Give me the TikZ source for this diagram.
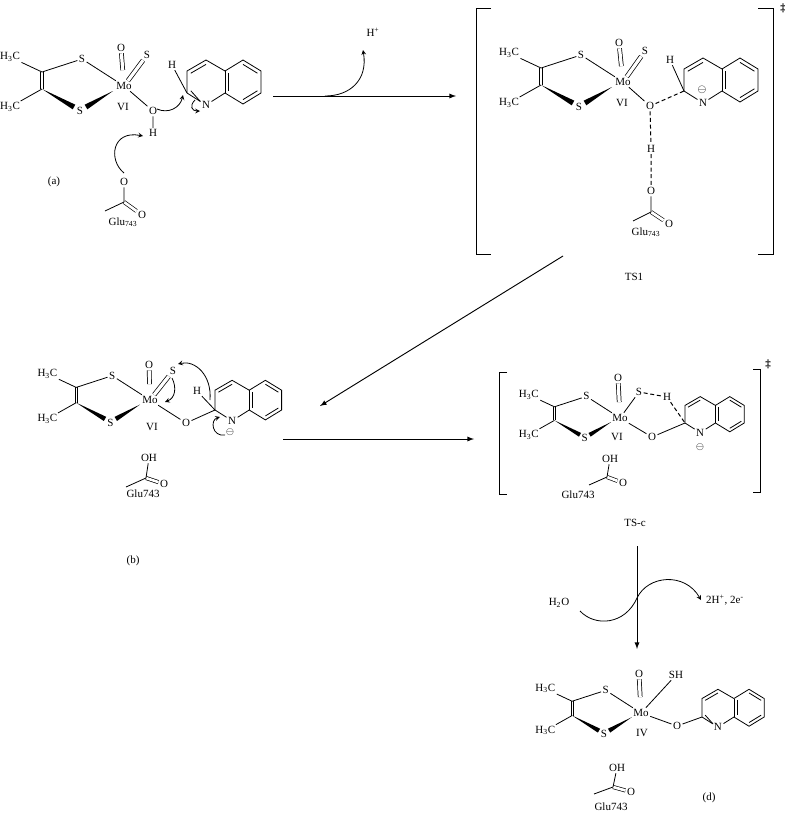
\documentclass[tikz,border=0pt]{standalone}
\usepackage{fontspec}
\setmainfont{Liberation Serif}
\usepackage{amsmath}
\usetikzlibrary{calc,arrows}
\newcommand{\wedgebond}[2]{\fill (#1) -- ($(#2)!2pt!90:(#1)$) -- ($(#2)!2pt!-90:(#1)$) -- cycle;}
\tikzset{
	atom/.style={inner sep=1pt},
	bond/.style={line width=.6pt},
	dbl/.style={double,double distance=2pt,line width=.5pt},
	oxo/.style={double,double distance=2.4pt,line width=.55pt,shorten >=8pt},
	hbond/.style={line width=.75pt,dash pattern=on 3pt off 2pt},
	curly/.style={line width=.6pt,-stealth},
	reaction/.style={line width=.7pt,-latex},
	bracket/.style={line width=.7pt},
	mofrag/.pic={
		\node[atom] (-Mo) at (0,0) {Mo};
		\node[atom] (-St) at (-42,-27) {S};
		\node[atom] (-Sb) at (-44,25) {S};
		\node[atom] (-MeA) at (-114,-29) {H\textsubscript{3}C};
		\node[atom] (-MeB) at (-114,21) {H\textsubscript{3}C};
		\coordinate (-CA) at (-82,-14);
		\coordinate (-CB) at (-82,3);
		\coordinate (-wA) at (-50,21);
		\coordinate (-wB) at (-38,21);
		\coordinate (-wC) at (-11,5);
		\draw[bond] ([xshift=-1pt]-CA) -- ([xshift=-1pt]-CB);
		\draw[bond] ([xshift=1pt]-CA) -- ([xshift=1pt]-CB);
		\draw[bond] (-MeA) -- (-CA) -- (-St) -- (-Mo);
		\draw[bond] (-MeB) -- (-CB);
		\wedgebond{-CB}{-wA}
		\wedgebond{-wC}{-wB}
	},
	quin/.pic={
		\coordinate (-C2) at (0,0);
		\coordinate (-C3) at (0,-22);
		\coordinate (-C4) at (19,-33);
		\coordinate (-C4a) at (38,-22);
		\coordinate (-C8a) at (38,0);
		\coordinate (-C5) at (56,-33);
		\coordinate (-C6) at (74,-22);
		\coordinate (-C7) at (74,0);
		\coordinate (-C8) at (56,11);
		\coordinate (-ringA) at (19,-11);
		\coordinate (-ringB) at (56,-11);
		\node[atom] (-N) at (19,12) {N};
		\draw[bond] (-C2) -- (-C3) -- (-C4) -- (-C4a) -- (-C5) -- (-C6) -- (-C7) -- (-C8) -- (-C8a) -- (-N) -- (-C2);
		\draw[bond] (-C4a) -- (-C8a);
		\foreach \p/\q/\r in {C3/C4/ringA,C4a/C8a/ringB,C5/C6/ringB,C7/C8/ringB}
			\draw[bond] ($(-\p)!.2!(-\r)$) -- ($(-\q)!.2!(-\r)$);
	},
}
\begin{document}
\begin{tikzpicture}[x=.75pt,y=-.75pt,every node/.style={font=\fontsize{8.25}{10}\selectfont}]
	\useasboundingbox (0,0) rectangle (785,814);
	% structure (a)
	\pic (ma) at (124,86) {mofrag};
	\pic (qa) at (187,93) {quin};
	\node[atom] (oa) at (121,48) {O};
	\node[atom] (sa) at (147,55) {S};
	\node[atom] (va) at (123,107) {VI};
	\node[atom] (oha) at (153,111) {O};
	\node[atom] (ha) at (153,133) {H};
	\node[atom] (hqa) at (172,65) {H};
	\node[atom] (oea) at (124,182) {O};
	\node[atom] (oca) at (142,215) {O};
	\node[atom] (glua) at (123,222) {Glu\textsubscript{743}};
	\node[atom] (laba) at (54,182) {(a)};
	\coordinate (ca) at (124,202);
	\coordinate (ea) at (105,211);
	\draw[oxo] (oa) -- (ma-Mo);
	\draw[oxo,shorten >=0pt] (sa) -- (ma-Mo);
	\draw[bond] (ma-Mo) -- (oha) -- (ha);
	\draw[bond] (hqa) -- (qa-C2);
	\draw[bond] ($(qa-C2)!.2!(qa-ringA)$) -- ($(qa-C2)!.7!(qa-N)$);
	\draw[dbl] (ca) -- (oca);
	\draw[bond] (oea) -- (ca) -- (ea);
	\draw[curly] (157,109) .. controls (168,114) and (180,108) .. (183,95);
	\draw[curly] (195,100) .. controls (189,106) and (192,111) .. (200,111);
	\draw[curly] (124,173) .. controls (108,160) and (112,130) .. (143,136);
	% first step
	\coordinate (stepA) at (273,96);
	\coordinate (stepB) at (456,96);
	\coordinate (loss) at (325,96);
	\node[atom] (hplus) at (373,32) {H\textsuperscript{+}};
	\draw[reaction] (stepA) -- (stepB);
	\draw[curly] (loss) .. controls (350,96) and (368,80) .. (363,50);
	% TS1
	\pic (mt) at (623,82) {mofrag};
	\pic (qt) at (684,91) {quin};
	\node[atom] (ot) at (619,43) {O};
	\node[atom] (st) at (645,51) {S};
	\node[atom] (vt) at (622,103) {VI};
	\node[atom] (oht) at (650,106) {O};
	\node[atom] (ht) at (651,149) {H};
	\node[atom] (hqt) at (670,60) {H};
	\node[atom] (oet) at (651,191) {O};
	\node[atom] (oct) at (669,224) {O};
	\node[atom] (glut) at (646,232) {Glu\textsubscript{743}};
	\node[atom] (minust) at (702,90) {$\ominus$};
	\node[atom] (labt) at (634,277) {TS1};
	\node[atom] (ddt) at (783,8) {\textbf{‡}};
	\coordinate (ct) at (651,212);
	\coordinate (et) at (633,221);
	\draw[oxo] (ot) -- (mt-Mo);
	\draw[oxo,shorten >=0pt] (st) -- (mt-Mo);
	\draw[bond] (mt-Mo) -- (oht);
	\draw[hbond] (oht) -- (qt-C2);
	\draw[hbond] (oht) -- (ht) -- (oet);
	\draw[bond] (hqt) -- (qt-C2);
	\draw[dbl] (ct) -- (oct);
	\draw[bond] (oet) -- (ct) -- (et);
	\draw[bracket] (491,8) -- (476,8) -- (476,254) -- (491,254);
	\draw[bracket] (758,8) -- (773,8) -- (773,254) -- (758,254);
	% second step
	\coordinate (stepC) at (563,256);
	\coordinate (stepD) at (320,406);
	\draw[reaction] (stepC) -- (stepD);
	% structure (b)
	\pic[scale=.9] (mb) at (150,400) {mofrag};
	\pic[scale=.9] (qb) at (215,410) {quin};
	\node[atom] (ob) at (149,365) {O};
	\node[atom] (sb) at (173,371) {S};
	\node[atom] (vb) at (152,427) {VI};
	\node[atom] (oxb) at (186,423) {O};
	\node[atom] (hqb) at (197,391) {H};
	\node[atom] (minusb) at (230,432) {\scriptsize$\ominus$};
	\node[atom] (ohb) at (149,458) {OH};
	\node[atom] (ocb) at (164,484) {O};
	\node[atom] (glub) at (143,494) {Glu743};
	\node[atom] (labb) at (133,561) {(b)};
	\coordinate (cb) at (146,478);
	\coordinate (eb) at (126,487);
	\draw[oxo] (ob) -- (mb-Mo);
	\draw[oxo,shorten >=0pt] (sb) -- (mb-Mo);
	\draw[bond] (mb-Mo) -- (oxb) -- (qb-C2);
	\draw[bond] (hqb) -- (qb-C2);
	\draw[dbl] (cb) -- (ocb);
	\draw[bond] (ohb) -- (cb) -- (eb);
	\draw[curly] (210,400) .. controls (212,375) and (195,360) .. (178,364);
	\draw[curly] (172,378) .. controls (177,388) and (175,398) .. (165,402);
	\draw[curly] (225,435) .. controls (212,437) and (210,420) .. (220,417);
	% third step
	\coordinate (stepE) at (283,439);
	\coordinate (stepF) at (474,439);
	\draw[reaction] (stepE) -- (stepF);
	% TS-c
	\pic[scale=.8] (mc) at (620,418) {mofrag};
	\pic[scale=.8] (qc) at (685,423) {quin};
	\node[atom] (oc) at (618,378) {O};
	\node[atom] (sc) at (639,392) {S};
	\node[atom] (hc) at (667,397) {H};
	\node[atom] (vc) at (617,437) {VI};
	\node[atom] (oxc) at (652,437) {O};
	\node[atom] (minusc) at (700,447) {\scriptsize$\ominus$};
	\node[atom] (ohc) at (610,459) {OH};
	\node[atom] (occ) at (623,483) {O};
	\node[atom] (gluc) at (578,495) {Glu743};
	\node[atom] (labc) at (635,523) {TS-c};
	\node[atom] (ddc) at (768,364) {\textbf{‡}};
	\coordinate (cc) at (607,477);
	\coordinate (ec) at (589,485);
	\draw[oxo] (oc) -- (mc-Mo);
	\draw[bond] (mc-Mo) -- (sc);
	\draw[hbond] (sc) -- (hc) -- (qc-C2);
	\draw[bond] (mc-Mo) -- (oxc) -- (qc-C2);
	\draw[dbl] (cc) -- (occ);
	\draw[bond] (ohc) -- (cc) -- (ec);
	\draw[bracket] (507,372) -- (499,372) -- (499,494) -- (507,494);
	\draw[bracket] (753,369) -- (760,369) -- (760,492) -- (753,492);
	% last step
	\coordinate (stepG) at (637,546);
	\coordinate (stepH) at (637,649);
	\node[atom] (water) at (559,603) {H\textsubscript{2}O};
	\node[atom] (prot) at (725,600) {2H\textsuperscript{+}, 2e\textsuperscript{-}};
	\draw[reaction] (stepG) -- (stepH);
	\draw[curly] (580,611) .. controls (595,627) and (625,625) .. (637,598) .. controls (648,575) and (685,572) .. (701,600);
	% structure (d)
	\pic[scale=.84] (md) at (641,713) {mofrag};
	\pic[scale=.84] (qd) at (702,717) {quin};
	\node[atom] (od) at (639,674) {O};
	\node[atom] (sd) at (676,675) {SH};
	\node[atom] (vd) at (642,733) {IV};
	\node[atom] (oxd) at (677,726) {O};
	\node[atom] (ohd) at (617,768) {OH};
	\node[atom] (ocd) at (631,792) {O};
	\node[atom] (glud) at (611,807) {Glu743};
	\node[atom] (labd) at (709,798) {(d)};
	\coordinate (cd) at (613,787);
	\coordinate (ed) at (594,794);
	\draw[oxo] (od) -- (md-Mo);
	\draw[bond] (md-Mo) -- (sd);
	\draw[bond] (md-Mo) -- (oxd) -- (qd-C2);
	\draw[bond] ($(qd-C2)!.2!(qd-ringA)$) -- ($(qd-C2)!.7!(qd-N)$);
	\draw[dbl] (cd) -- (ocd);
	\draw[bond] (ohd) -- (cd) -- (ed);
\end{tikzpicture}
\end{document}
